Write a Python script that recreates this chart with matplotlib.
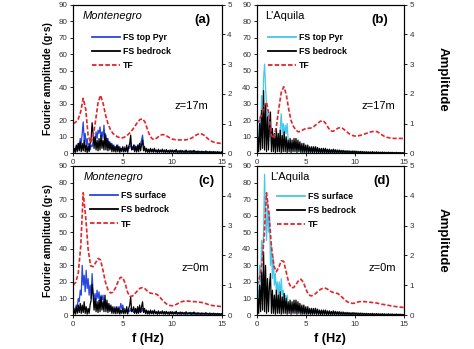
import numpy as np
import matplotlib
matplotlib.use("Agg")
import matplotlib.pyplot as plt

plt.rcParams['font.family'] = ['Liberation Sans', 'DejaVu Sans']

# Frequency sampling of the spectra (Hz) and of the transfer functions
freq = np.arange(151) * 0.1
tf_freq = np.arange(61) * 0.25

# Montenegro bedrock Fourier spectrum (g*s), same record in (a) and (c)
mn_bed = [0.5, 3, 0.5, 5, 1, 6, 1.5, 7, 1, 6,
          1.5, 8, 1, 5, 0.5, 4, 1, 6, 9, 18.5,
          12, 3, 10, 2, 8, 1.5, 9, 2, 11, 3,
          8, 2, 12, 2, 9, 1.5, 7, 2, 6, 1,
          5, 1, 4, 0.8, 5, 1, 4, 0.6, 3, 1,
          4, 0.8, 3, 1, 5, 0.6, 4, 6, 11, 2,
          3, 5, 1, 4, 0.8, 5, 1, 6, 1.5, 5,
          8, 1.5, 4, 0.8, 3, 0.6, 2.5, 0.6, 3, 0.8,
          2.5, 0.6, 3, 0.8, 2, 0.5, 2.5, 0.6, 2, 0.7,
          2.5, 0.6, 2, 0.5, 2.2, 0.6, 1.8, 0.4, 2, 0.6,
          2, 0.5, 1.8, 0.6, 2.3, 0.4, 1.5, 0.5, 1.8, 0.4,
          1.7, 0.5, 1.5, 0.4, 1.9, 0.4, 1.4, 0.5, 1.6, 0.3,
          1.5, 0.4, 1.8, 0.4, 1.3, 0.3, 1.4, 0.4, 1.2, 0.3,
          1.3, 0.4, 1.1, 0.3, 1.4, 0.4, 1.0, 0.3, 1.2, 0.3,
          1.0, 0.3, 1.1, 0.3, 0.9, 0.3, 1.0, 0.2, 0.8, 0.3,
          0.8]

# Montenegro, top of the pyramid (z=17m)
mn_top = [0.5, 2, 1, 4, 2, 6, 4, 9, 6, 12,
          19, 8, 12, 5, 9, 3, 6, 2, 5, 4,
          7, 10, 6, 13, 9, 14, 12, 16, 10, 13,
          9, 17, 8, 11, 6, 9, 5, 7, 4, 6,
          3, 5, 2, 4, 3, 5, 2, 4, 2, 3,
          3, 2, 4, 1.5, 3, 2, 4, 3, 6, 3,
          4, 2, 5, 3, 4, 2, 5, 3, 6, 8,
          11, 5, 3, 2, 2.5, 1, 2, 1, 2.5, 1,
          2, 1, 2.5, 1, 1.8, 0.7, 2, 0.9, 1.7, 1,
          2, 0.8, 1.8, 0.7, 2, 0.9, 1.6, 0.6, 1.8, 0.8,
          1.7, 0.7, 1.6, 0.8, 2, 0.6, 1.4, 0.7, 1.6, 0.5,
          1.5, 0.7, 1.3, 0.5, 1.7, 0.6, 1.2, 0.7, 1.4, 0.4,
          1.3, 0.6, 1.6, 0.5, 1.1, 0.4, 1.2, 0.6, 1.0, 0.4,
          1.1, 0.5, 1.0, 0.4, 1.2, 0.5, 0.9, 0.3, 1.0, 0.4,
          0.9, 0.3, 1.0, 0.4, 0.8, 0.3, 0.9, 0.3, 0.7, 0.3,
          0.7]

# Montenegro, surface (z=0m)
mn_surf = [1, 4, 2, 6, 5, 10, 8, 15, 12, 30,
           18, 24, 14, 27, 16, 22, 12, 18, 10, 25,
           14, 9, 13, 8, 15, 10, 14, 7, 12, 9,
           12, 6, 9, 4, 7, 3, 6, 3, 5, 2,
           4, 2, 5, 3, 4, 2, 5, 3, 7, 4,
           6, 3, 4, 2, 3, 1.5, 3, 2, 4, 2,
           3, 1.5, 3, 2, 3, 1.5, 3, 2, 3, 2,
           4, 2, 3, 1.5, 2.5, 1, 2, 1, 2, 1,
           2, 1, 2.5, 1, 1.8, 0.7, 2, 0.9, 1.7, 1,
           2, 0.8, 1.8, 0.7, 2, 0.9, 1.6, 0.6, 1.8, 0.8,
           1.7, 0.7, 1.6, 0.8, 2, 0.6, 1.4, 0.7, 1.6, 0.5,
           1.5, 0.7, 1.3, 0.5, 1.7, 0.6, 1.2, 0.7, 1.4, 0.4,
           1.3, 0.6, 1.6, 0.5, 1.1, 0.4, 1.2, 0.6, 1.0, 0.4,
           1.1, 0.5, 1.0, 0.4, 1.2, 0.5, 0.9, 0.3, 1.0, 0.4,
           0.9, 0.3, 1.0, 0.4, 0.8, 0.3, 0.9, 0.3, 0.7, 0.3,
           0.7]

# L'Aquila bedrock, same record in (b) and (d)
aq_bed = [2, 10, 1, 18, 2, 26, 3, 38, 2, 30,
          1, 22, 2, 18, 25, 1, 15, 1, 12, 0.5,
          15, 1, 12, 1, 14, 0.5, 11, 1, 13, 1,
          10, 0.5, 8, 1, 9, 0.5, 8, 1, 9, 1,
          9, 0.5, 8, 1, 7, 0.5, 6, 0.5, 6, 0.5,
          5, 0.4, 5, 0.5, 4, 0.4, 4, 0.4, 4, 0.5,
          4, 0.4, 3.5, 0.4, 3, 0.3, 3, 0.3, 3, 0.4,
          3, 0.3, 2.5, 0.3, 2.5, 0.3, 2.2, 0.3, 2.5, 0.3,
          2.2, 0.3, 2, 0.3, 2, 0.3, 1.8, 0.2, 1.8, 0.3,
          1.6, 0.2, 1.6, 0.2, 1.5, 0.2, 1.4, 0.2, 1.5, 0.2,
          1.4, 0.2, 1.3, 0.2, 1.2, 0.2, 1.2, 0.2, 1.1, 0.2,
          1.0, 0.2, 1.0, 0.1, 0.9, 0.2, 0.9, 0.1, 1.0, 0.1,
          0.8, 0.1, 0.9, 0.1, 0.8, 0.1, 0.7, 0.1, 0.8, 0.1,
          0.7, 0.1, 0.6, 0.1, 0.7, 0.1, 0.6, 0.1, 0.6, 0.1,
          0.5, 0.1, 0.6, 0.1, 0.5, 0.1, 0.5, 0.1, 0.4, 0.1,
          0.3]

# L'Aquila, top of the pyramid (z=17m)
aq_top = [2, 12, 6, 22, 14, 35, 25, 45, 54, 40,
          30, 18, 25, 10, 15, 6, 10, 4, 8, 3,
          6, 4, 10, 8, 15, 24, 12, 18, 10, 17,
          12, 18, 8, 5, 6, 3, 5, 2, 5, 3,
          4, 2, 4, 2, 3, 1.5, 3, 1, 3, 1.5,
          2.5, 1, 2.5, 1, 2, 1, 2, 0.8, 2, 1,
          2, 0.8, 1.8, 0.7, 1.5, 0.6, 1.5, 0.5, 1.5, 0.6,
          1.5, 0.5, 1.2, 0.5, 1.2, 0.5, 1.1, 0.4, 1.2, 0.4,
          1.1, 0.4, 1.0, 0.3, 1.0, 0.4, 0.9, 0.3, 0.9, 0.3,
          0.8, 0.3, 0.8, 0.2, 0.7, 0.3, 0.7, 0.2, 0.7, 0.2,
          0.7, 0.2, 0.6, 0.2, 0.6, 0.2, 0.6, 0.2, 0.5, 0.2,
          0.5, 0.2, 0.5, 0.1, 0.4, 0.2, 0.4, 0.1, 0.5, 0.1,
          0.4, 0.1, 0.4, 0.1, 0.4, 0.1, 0.3, 0.1, 0.4, 0.1,
          0.3, 0.1, 0.3, 0.1, 0.3, 0.1, 0.3, 0.1, 0.3, 0.1,
          0.2, 0.1, 0.3, 0.1, 0.2, 0.1, 0.2, 0.1, 0.2, 0.1,
          0.1]

# L'Aquila, surface (z=0m)
aq_surf = [3, 15, 8, 30, 20, 45, 35, 50, 85, 60,
           45, 70, 50, 62, 30, 42, 22, 35, 18, 25,
           14, 20, 12, 20, 10, 22, 12, 15, 8, 12,
           10, 12, 6, 5, 6, 3, 5, 2, 5, 3,
           4, 2, 4, 2, 3, 1.5, 3, 1, 3, 1.5,
           2.5, 1, 2.5, 1, 2, 1, 2, 0.8, 2, 1,
           2, 0.8, 1.8, 0.7, 1.5, 0.6, 1.5, 0.5, 1.5, 0.6,
           1.5, 0.5, 1.2, 0.5, 1.2, 0.5, 1.1, 0.4, 1.2, 0.4,
           1.1, 0.4, 1.0, 0.3, 1.0, 0.4, 0.9, 0.3, 0.9, 0.3,
           0.8, 0.3, 0.8, 0.2, 0.7, 0.3, 0.7, 0.2, 0.7, 0.2,
           0.7, 0.2, 0.6, 0.2, 0.6, 0.2, 0.6, 0.2, 0.5, 0.2,
           0.5, 0.2, 0.5, 0.1, 0.4, 0.2, 0.4, 0.1, 0.5, 0.1,
           0.4, 0.1, 0.4, 0.1, 0.4, 0.1, 0.3, 0.1, 0.4, 0.1,
           0.3, 0.1, 0.3, 0.1, 0.3, 0.1, 0.3, 0.1, 0.3, 0.1,
           0.2, 0.1, 0.3, 0.1, 0.2, 0.1, 0.2, 0.1, 0.2, 0.1,
           0.1]

# Transfer functions (right axis, amplitude), 0.25 Hz steps
tf_a = [1.0, 1.05, 1.15, 1.4, 1.85, 1.5, 0.6, 0.35, 0.55, 1.1,
        1.7, 1.95, 1.7, 1.3, 1.0, 0.8, 0.67, 0.6, 0.55, 0.52,
        0.52, 0.56, 0.62, 0.7, 0.8, 0.92, 1.05, 1.14, 1.16, 1.05,
        0.8, 0.58, 0.48, 0.47, 0.53, 0.6, 0.63, 0.62, 0.57, 0.52,
        0.48, 0.46, 0.45, 0.45, 0.45, 0.45, 0.46, 0.48, 0.52, 0.58,
        0.63, 0.66, 0.65, 0.6, 0.52, 0.45, 0.4, 0.37, 0.35, 0.34,
        0.33]
tf_b = [1.0, 1.1, 1.3, 1.6, 1.72, 1.3, 0.6, 0.5, 0.9, 1.5,
        2.05, 2.24, 2.0, 1.5, 1.1, 0.9, 0.78, 0.72, 0.74, 0.8,
        0.83, 0.84, 0.85, 0.88, 0.95, 1.02, 1.08, 1.1, 1.02, 0.88,
        0.76, 0.74, 0.78, 0.84, 0.87, 0.84, 0.77, 0.7, 0.64, 0.6,
        0.58, 0.58, 0.6, 0.62, 0.65, 0.68, 0.71, 0.73, 0.74, 0.73,
        0.68, 0.62, 0.57, 0.54, 0.52, 0.51, 0.5, 0.5, 0.5, 0.5,
        0.5]
tf_c = [1.0, 1.1, 1.4, 2.3, 4.1, 3.3, 2.2, 1.65, 1.62, 1.75,
        1.9, 1.85, 1.5, 1.1, 0.85, 0.74, 0.76, 0.9, 1.1, 1.26,
        1.26, 1.05, 0.75, 0.62, 0.64, 0.72, 0.82, 0.9, 0.92, 0.88,
        0.8, 0.74, 0.72, 0.72, 0.68, 0.6, 0.5, 0.42, 0.35, 0.32,
        0.31, 0.33, 0.37, 0.42, 0.45, 0.47, 0.47, 0.46, 0.45, 0.45,
        0.44, 0.43, 0.42, 0.4, 0.37, 0.34, 0.32, 0.31, 0.3, 0.29,
        0.28]
tf_d = [1.0, 1.2, 1.6, 2.6, 4.1, 3.4, 2.3, 1.65, 1.45, 1.6,
        1.82, 1.8, 1.45, 1.1, 0.92, 0.92, 1.02, 1.15, 1.2, 1.1,
        0.88, 0.7, 0.64, 0.66, 0.72, 0.8, 0.86, 0.9, 0.9, 0.86,
        0.8, 0.76, 0.74, 0.72, 0.66, 0.58, 0.5, 0.44, 0.4, 0.39,
        0.4, 0.43, 0.45, 0.45, 0.45, 0.44, 0.43, 0.42, 0.41, 0.4,
        0.38, 0.36, 0.35, 0.33, 0.32, 0.3, 0.29, 0.28, 0.27, 0.26,
        0.25]

BLUE = "#2747e0"
CYAN = "#45c8ec"
RED = "#e3242b"
TICK_COL = "#333333"

W, H = 474, 349
fig = plt.figure(figsize=(W / 100, H / 100), dpi=100)


def box(left, right, top, bottom):
    return [left / W, 1 - bottom / H, (right - left) / W, (bottom - top) / H]


def draw_panel(rect, surf, bed, tf, color, surf_label, site, italic, tag, zlabel,
               site_x, tag_x, z_x, leg_xy, bottom_row, left_col):
    ax = fig.add_axes(rect)
    ax2 = ax.twinx()

    s, = ax.plot(freq, surf, color=color, lw=0.9, zorder=1)
    b, = ax.plot(freq, bed, color="black", lw=0.9, zorder=2)
    t, = ax2.plot(tf_freq, tf, color=RED, lw=1.2, dashes=(2.5, 1.2))

    ax.set_xlim(0, 15)
    ax.set_ylim(0, 90)
    ax2.set_ylim(0, 5)
    ax.set_xticks([0, 5, 10, 15])
    ax.set_yticks(range(0, 91, 10))
    ax2.set_yticks(range(0, 6))
    for a in (ax, ax2):
        a.tick_params(labelsize=5.8, length=2, width=0.6, pad=2,
                      labelcolor=TICK_COL, direction="out")
        for sp in a.spines.values():
            sp.set_linewidth(0.8)

    ax.text(site_x, 0.925, site, transform=ax.transAxes, fontsize=8,
            style="italic" if italic else "normal", ha="left", va="center")
    ax.text(tag_x, 0.9, tag, transform=ax.transAxes, fontsize=9.5,
            fontweight="bold", ha="center", va="center")
    ax.text(z_x, 0.315, zlabel, transform=ax.transAxes, fontsize=8,
            ha="center", va="center")

    leg = ax2.legend([s, b, t], [surf_label, "FS bedrock", "TF"],
                     loc="upper left", bbox_to_anchor=leg_xy, frameon=False,
                     borderpad=0, borderaxespad=0, handlelength=3.2,
                     handletextpad=0.35, labelspacing=0.6,
                     prop={"size": 6.3, "weight": "bold"})
    for h in leg.legend_handles:
        h.set_linewidth(1.3)

    if left_col:
        ax.set_ylabel("Fourier amplitude (g\u00b7s)", fontsize=7.4,
                      fontweight="bold", labelpad=4)
    else:
        ax2.set_ylabel("Amplitude", fontsize=9.5, fontweight="bold",
                       rotation=270, labelpad=25)
    if bottom_row:
        ax.set_xlabel("f (Hz)", fontsize=9.2, fontweight="bold", labelpad=4)
    return ax


A = box(73.3, 221.7, 4.7, 153.3)
B = box(256.7, 404, 4.7, 153.3)
C = box(73.3, 221.7, 166, 315)
D = box(256.7, 404, 166, 315)

draw_panel(A, mn_top, mn_bed, tf_a, BLUE, "FS top Pyr", "Montenegro", True,
           "(a)", "z=17m", 0.065, 0.867, 0.793, (0.126, 0.81), False, True)
draw_panel(B, aq_top, aq_bed, tf_b, CYAN, "FS top Pyr", "L'Aquila", False,
           "(b)", "z=17m", 0.056, 0.834, 0.827, (0.077, 0.81), False, False)
draw_panel(C, mn_surf, mn_bed, tf_c, BLUE, "FS surface", "Montenegro", True,
           "(c)", "z=0m", 0.072, 0.895, 0.82, (0.113, 0.832), True, True)
draw_panel(D, aq_surf, aq_bed, tf_d, CYAN, "FS surface", "L'Aquila", False,
           "(d)", "z=0m", 0.09, 0.85, 0.85, (0.138, 0.826), True, False)

fig.savefig("out.png", dpi=100)
